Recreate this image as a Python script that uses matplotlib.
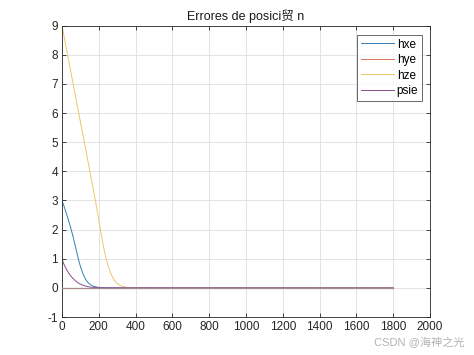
import matplotlib
matplotlib.use("Agg")
import matplotlib.pyplot as plt

# ---- data ----
x_hxe = [0, 10, 20, 30, 40, 50, 60, 70, 80, 90, 100, 110, 120, 130, 140, 150, 165, 180, 200, 225, 250, 300, 1800]
hxe   = [3.0, 2.82, 2.63, 2.43, 2.22, 2.0, 1.76, 1.5, 1.23, 0.97, 0.74, 0.55, 0.40, 0.28, 0.19, 0.13, 0.07, 0.04, 0.015, 0.005, 0.0, 0.0, 0.0]

x_hye = [0, 1800]
hye   = [0.0, 0.0]

x_hze = [0, 50, 100, 150, 175, 190, 200, 210, 220, 230, 240, 250, 260, 270, 280, 290, 300, 315, 330, 350, 375, 400, 1800]
hze   = [9.0, 7.35, 5.7, 4.05, 3.22, 2.7, 2.33, 1.95, 1.6, 1.28, 1.0, 0.77, 0.58, 0.43, 0.31, 0.22, 0.15, 0.09, 0.05, 0.02, 0.006, 0.0, 0.0]

x_psie = [0, 5, 10, 20, 30, 40, 50, 60, 75, 90, 100, 115, 130, 150, 175, 200, 1800]
psie   = [1.0, 0.9, 0.82, 0.69, 0.57, 0.47, 0.39, 0.32, 0.23, 0.16, 0.13, 0.09, 0.06, 0.03, 0.012, 0.004, 0.0]

x_ticks = list(range(0, 2001, 200))
y_ticks = list(range(-1, 10))
title = "Errores de posici贸 n"
legend_labels = ["hxe", "hye", "hze", "psie"]
watermark = "CSDN @海神之光"

# ---- style ----
fam = ['Liberation Sans', 'Noto Sans CJK SC', 'DejaVu Sans']
plt.rcParams['font.family'] = fam
plt.rcParams['axes.unicode_minus'] = False

colors = [(0.2, 0.5, 0.7), (0.85, 0.45, 0.35), (0.93, 0.78, 0.4), (0.55, 0.3, 0.55)]

fig = plt.figure(figsize=(4.74, 3.55), dpi=100)
ax = fig.add_axes([62/474, 1-317/355, (430-62)/474, (317-25.7)/355])

series = [(x_hxe, hxe), (x_hye, hye), (x_hze, hze), (x_psie, psie)]
for (xs, ys), c, lab in zip(series, colors, legend_labels):
    ax.plot(xs, ys, color=c, lw=0.7, label=lab)
# grey look of the merged zero line (overlapping series)
ax.plot([x_hye[0], x_hye[-1]], [hye[0], hye[-1]], color=(0.6, 0.58, 0.6), lw=1.0,
        alpha=0.75, zorder=3)

ax.set_xlim(0, 2000)
ax.set_ylim(-1, 9)
ax.set_xticks(x_ticks)
ax.set_yticks(y_ticks)
ax.tick_params(direction='in', top=True, right=True, labelsize=8.5, length=3,
               width=0.6, colors=(0.15, 0.15, 0.15), pad=3)
ax.grid(True, color=(0.87, 0.87, 0.87), lw=0.6)
ax.set_axisbelow(True)
for s in ax.spines.values():
    s.set_color((0.15, 0.15, 0.15))
    s.set_linewidth(0.6)

ax.set_title(title, fontsize=9, pad=4, family=fam, color=(0.1, 0.1, 0.1))

leg = ax.legend(loc='upper right', fontsize=8.5, frameon=True, fancybox=False,
                edgecolor=(0.15, 0.15, 0.15), handlelength=2.8, borderpad=0.3,
                labelspacing=0.3, handletextpad=0.25, borderaxespad=0,
                bbox_to_anchor=((421.7-62)/368, (317-35)/(317-25.7)))
leg.get_frame().set_linewidth(0.6)

fig.text(0.98, 0.02, watermark, ha='right', va='bottom', fontsize=8,
         color=(0.7, 0.7, 0.7), family=fam)

fig.savefig("out.png", dpi=100)
